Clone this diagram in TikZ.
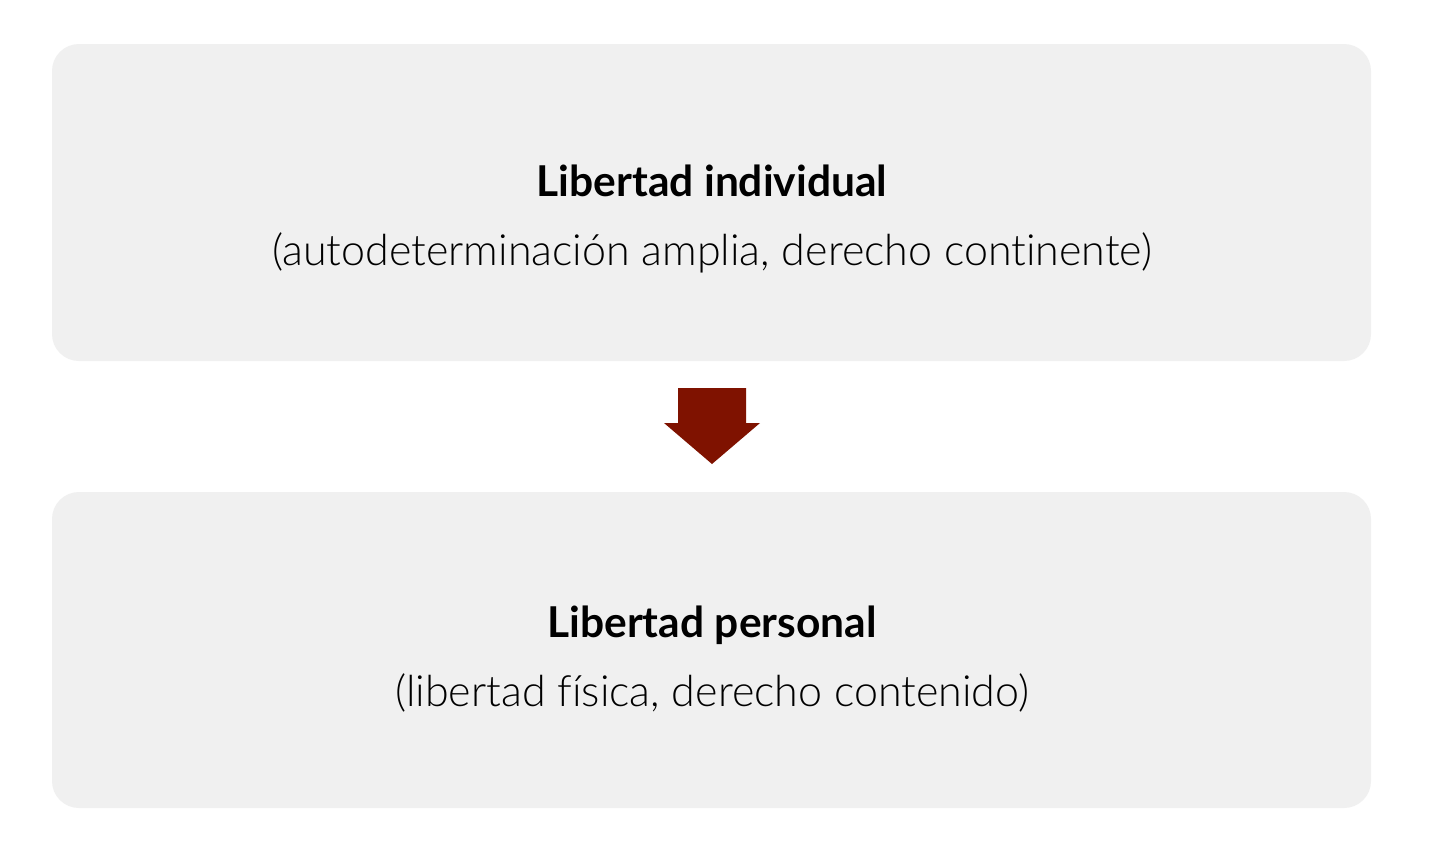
\documentclass[tikz,border=0pt]{standalone}
\usepackage{fontspec}
\setmainfont{Lato}[Ligatures={NoCommon,NoRare}]
\newfontfamily\lightfont{Lato Light}[Ligatures={NoCommon,NoRare}]
\definecolor{boxgray}{HTML}{F0F0F0}
\definecolor{arrowred}{HTML}{7F1200}
\begin{document}
\begin{tikzpicture}[x=1pt,y=-1pt,
  panel/.style={fill=boxgray,draw=none,rounded corners=27pt},
  titletext/.style={anchor=base,inner sep=0pt,font=\fontsize{42.5}{50}\selectfont\bfseries},
  subtext/.style={anchor=base,inner sep=0pt,font=\fontsize{43}{50}\selectfont\lightfont}]
\useasboundingbox (0,0) rectangle (1429,865);
\fill[white] (0,0) rectangle (1429,865);
\path[panel] (52,44) rectangle (1371,361);
\path[panel] (52,492) rectangle (1371,808);
\node[titletext] (t1) at (712,196) {Libertad individual};
\node[subtext] (s1) at (712,265) {(autodeterminación amplia, derecho continente)};
\node[titletext] (t2) at (712,637) {Libertad personal};
\node[subtext] (s2) at (712,706) {(libertad física, derecho contenido)};
\fill[arrowred] (678,388) -- (746,388) -- (746,423) -- (760,423) -- (712,464) -- (664,423) -- (678,423) -- cycle;
\end{tikzpicture}
\end{document}
